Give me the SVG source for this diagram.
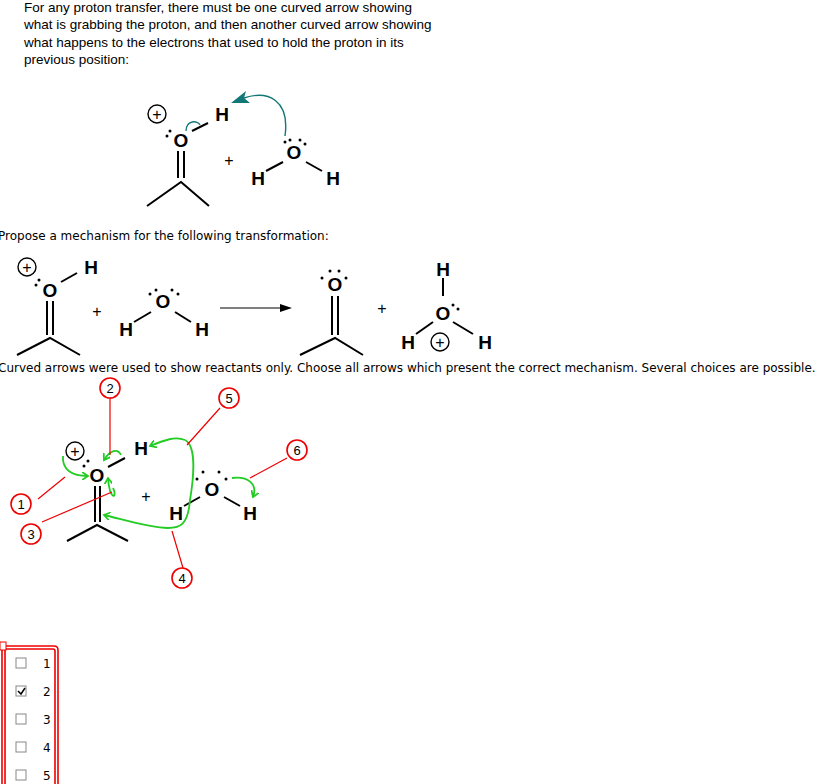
<svg xmlns="http://www.w3.org/2000/svg" width="830" height="784" viewBox="0 0 830 784">
<defs>
<style>
.t{font-family:"Liberation Sans",Arial,sans-serif;font-size:13.5px;fill:#000}
.v{font-family:Verdana,"DejaVu Sans",sans-serif;font-size:12px;fill:#000}
.a{font-family:"Liberation Sans",Arial,sans-serif;font-size:19px;font-weight:bold;fill:#000;text-anchor:middle}
.p{font-family:"Liberation Sans",Arial,sans-serif;font-size:16px;fill:#000;text-anchor:middle}
.b{stroke:#000;stroke-width:2;fill:none}
.c{fill:none;stroke:#000;stroke-width:1.4}
.r{stroke:#e00;stroke-width:1.2;fill:none}
.rc{fill:#fff;stroke:#e00;stroke-width:1.6}
.n{font-family:"Liberation Sans",Arial,sans-serif;font-size:13px;text-anchor:middle;fill:#000}
.g{fill:none;stroke:#2c2;stroke-width:1.8}
</style>
<marker id="g" markerWidth="8" markerHeight="8" refX="6" refY="4" orient="auto" markerUnits="userSpaceOnUse"><path d="M0,0 L6,4 L0,8" fill="none" stroke="#2c2" stroke-width="1.8"/></marker>
</defs>
<g id="intro">
<text class="t" x="24" y="12">For any proton transfer, there must be one curved arrow showing</text>
<text class="t" x="24" y="29">what is grabbing the proton, and then another curved arrow showing</text>
<text class="t" x="24" y="47">what happens to the electrons that used to hold the proton in its</text>
<text class="t" x="24" y="64">previous position:</text>
</g>
<g id="example">
<circle class="c" cx="157" cy="114" r="9"/><text class="p" x="157" y="119.5">+</text>
<text class="a" x="181" y="147">O</text>
<circle cx="170" cy="131" r="1.5"/><circle cx="167" cy="136" r="1.5"/>
<text class="a" x="222" y="121">H</text>
<line class="b" x1="192" y1="131" x2="208" y2="123"/>
<line class="b" x1="178" y1="151" x2="178" y2="178"/><line class="b" x1="184" y1="151" x2="184" y2="178"/>
<polyline class="b" points="147,206 181,182 209,206"/>
<text class="p" x="229" y="166">+</text>
<text class="a" x="294" y="159">O</text>
<circle cx="285" cy="142" r="1.5"/><circle cx="290" cy="140" r="1.5"/><circle cx="300" cy="140" r="1.5"/><circle cx="305" cy="144" r="1.5"/>
<text class="a" x="258" y="185">H</text><text class="a" x="333" y="185">H</text>
<line class="b" x1="266" y1="171" x2="283" y2="162"/><line class="b" x1="306" y1="162" x2="322" y2="171"/>
<path d="M285,136 C290,100 268,90 244,98" fill="none" stroke="#177" stroke-width="1.4"/>
<path d="M231,103 L246,91 L244,98 L250,103 Z" fill="#177"/>
<path d="M186,131 C186,120 198,120 200,125" fill="none" stroke="#177" stroke-width="1.3"/>
</g>
<g id="reaction">
<text class="v" x="-2" y="240">Propose a mechanism for the following transformation:</text>
<circle class="c" cx="27" cy="267" r="9"/><text class="p" x="27" y="272.5">+</text>
<text class="a" x="91" y="274">H</text>
<text class="a" x="50" y="297">O</text>
<circle cx="39" cy="280" r="1.5"/><circle cx="36" cy="285" r="1.5"/>
<line class="b" x1="61" y1="282" x2="77" y2="273"/>
<line class="b" x1="47" y1="301" x2="47" y2="335"/><line class="b" x1="53" y1="301" x2="53" y2="335"/>
<polyline class="b" points="17,355 50,338 80,355"/>
<text class="p" x="97" y="317">+</text>
<text class="a" x="163" y="308">O</text>
<circle cx="150" cy="294" r="1.5"/><circle cx="156" cy="290" r="1.5"/><circle cx="172" cy="290" r="1.5"/><circle cx="178" cy="294" r="1.5"/>
<text class="a" x="126" y="336">H</text><text class="a" x="202" y="336">H</text>
<line class="b" x1="134" y1="322" x2="151" y2="312"/><line class="b" x1="175" y1="312" x2="191" y2="322"/>
<line x1="220" y1="308" x2="282" y2="308" stroke="#000" stroke-width="1"/>
<path d="M280,304 L292,308 L280,312 Z"/>
<text class="a" x="335" y="291">O</text>
<circle cx="322" cy="278" r="1.5"/><circle cx="330" cy="271" r="1.5"/><circle cx="339" cy="271" r="1.5"/><circle cx="346" cy="278" r="1.5"/>
<line class="b" x1="332" y1="296" x2="332" y2="335"/><line class="b" x1="338" y1="296" x2="338" y2="335"/>
<polyline class="b" points="300,355 335,338 363,355"/>
<text class="p" x="382" y="314">+</text>
<text class="a" x="443" y="276">H</text>
<line class="b" x1="443" y1="278" x2="443" y2="296"/>
<text class="a" x="443" y="320">O</text>
<circle cx="453" cy="305" r="1.5"/><circle cx="458" cy="309" r="1.5"/>
<text class="a" x="408" y="349">H</text><text class="a" x="485" y="349">H</text>
<line class="b" x1="416" y1="334" x2="433" y2="322"/><line class="b" x1="453" y1="322" x2="473" y2="334"/>
<circle class="c" cx="440" cy="342" r="9"/><text class="p" x="440" y="347.5">+</text>
</g>
<g id="choices">
<text class="v" x="-2" y="372">Curved arrows were used to show reactants only. Choose all arrows which present the correct mechanism. Several choices are possible.</text>
<circle class="c" cx="75" cy="451" r="9"/><text class="p" x="75" y="456.5">+</text>
<text class="a" x="97" y="482">O</text>
<circle cx="88" cy="461" r="1.5"/><circle cx="84" cy="466" r="1.5"/>
<text class="a" x="141" y="455">H</text>
<line class="b" x1="108" y1="467" x2="125" y2="458"/>
<line class="b" x1="95" y1="486" x2="95" y2="522"/><line class="b" x1="100" y1="486" x2="100" y2="522"/>
<polyline class="b" points="67,541 97,525 128,541"/>
<text class="p" x="146" y="502">+</text>
<text class="a" x="212" y="496">O</text>
<circle cx="197" cy="479" r="1.5"/><circle cx="203" cy="472" r="1.5"/><circle cx="219" cy="472" r="1.5"/><circle cx="226" cy="479" r="1.5"/>
<text class="a" x="176" y="520">H</text><text class="a" x="250" y="520">H</text>
<line class="b" x1="184" y1="506" x2="200" y2="497"/><line class="b" x1="224" y1="497" x2="240" y2="506"/>
</g>
<g id="connectors">
<path class="g" d="M63,456 C62,470 72,476 88,476" marker-end="url(#g)"/>
<path class="g" d="M121,455 C118,448 110,450 104,460" marker-end="url(#g)"/>
<path class="g" d="M113,488 C118,498 110,502 108,478" marker-end="url(#g)"/>
<path class="g" d="M185,440 C175,436 165,440 150,446" marker-end="url(#g)"/>
<path class="g" d="M185,440 C195,445 195,470 190,500 C188,525 180,528 168,528 C150,528 125,520 104,515" marker-end="url(#g)"/>
<path class="g" d="M232,478 C248,476 258,484 253,497" marker-end="url(#g)"/>
<line class="r" x1="110" y1="398" x2="110" y2="455"/>
<line class="r" x1="220" y1="408" x2="187" y2="445"/>
<line class="r" x1="287" y1="458" x2="250" y2="478"/>
<line class="r" x1="38" y1="499" x2="65" y2="477"/>
<line class="r" x1="42" y1="522" x2="112" y2="492"/>
<line class="r" x1="172" y1="531" x2="183" y2="568"/>
</g>
<g id="labels">
<circle class="rc" cx="110" cy="388" r="10"/><text class="n" x="110" y="393">2</text>
<circle class="rc" cx="229" cy="398" r="10"/><text class="n" x="229" y="403">5</text>
<circle class="rc" cx="297" cy="450" r="10"/><text class="n" x="297" y="455">6</text>
<circle class="rc" cx="21" cy="504" r="10"/><text class="n" x="21" y="509">1</text>
<circle class="rc" cx="31" cy="534" r="10"/><text class="n" x="31" y="539">3</text>
<circle class="rc" cx="182" cy="578" r="10"/><text class="n" x="182" y="583">4</text>
</g>
<g id="answers">
<path d="M2,784 V646 H54 Q58,646 58,650 V784" fill="none" stroke="#e00" stroke-width="1.6"/>
<path d="M5,784 V649 H53 Q55,649 55,651 V784" fill="none" stroke="#e00" stroke-width="1.6"/>
<rect x="0" y="642" width="6" height="8" fill="#fff" stroke="#e00"/>
<g fill="#fff" stroke="#888"><rect x="16" y="658" width="10" height="10"/><rect x="16" y="686" width="10" height="10"/><rect x="16" y="714" width="10" height="10"/><rect x="16" y="742" width="10" height="10"/><rect x="16" y="770" width="10" height="10"/></g>
<path d="M18,691 L21,694 L25,688" fill="none" stroke="#000" stroke-width="1.5"/>
<text class="v" x="43" y="668">1</text><text class="v" x="43" y="696">2</text><text class="v" x="43" y="724">3</text><text class="v" x="43" y="752">4</text><text class="v" x="43" y="780">5</text>
</g>
</svg>
